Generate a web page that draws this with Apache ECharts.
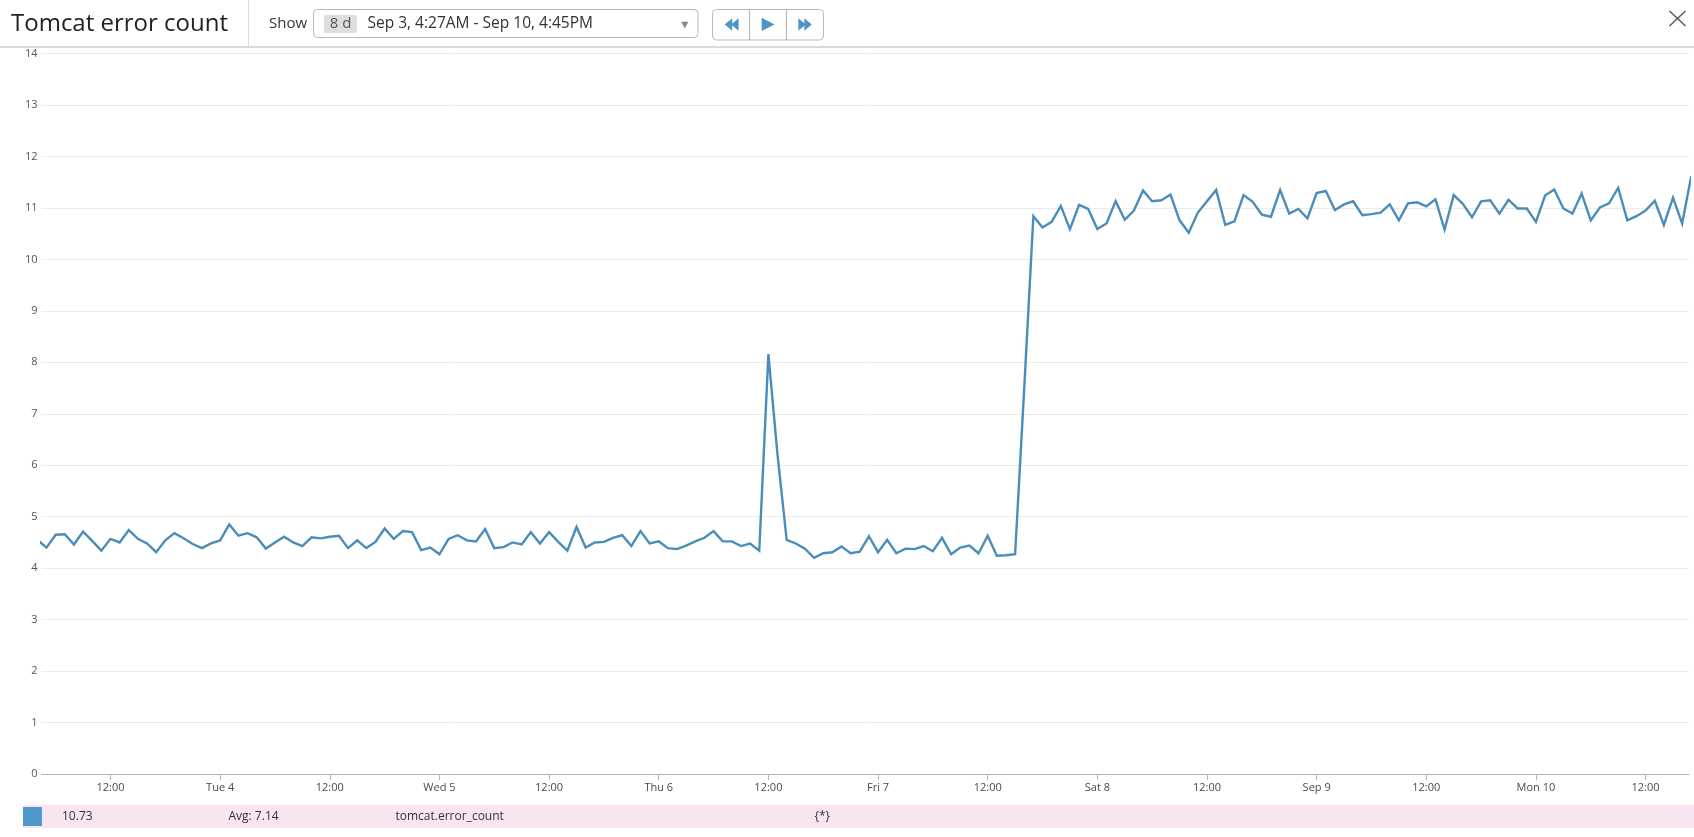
<!DOCTYPE html>
<html>
<head>
<meta charset="utf-8">
<style>html,body{margin:0;padding:0;background:#fff}#c{width:1694px;height:837px}</style>
<script src="https://cdn.jsdelivr.net/npm/echarts@6/dist/echarts.min.js"></script>
</head>
<body>
<div id="c"></div>
<script>
// hourly values, one list per day
const sep3 = [4.55,4.40,4.65,4.66,4.46,4.71,4.53,4.34,4.57,4.50,4.74,4.57,4.48,4.31,4.54,4.68,4.58,4.47,4.39,4.48]; // from 04:00
const sep4 = [4.54,4.85,4.63,4.68,4.60,4.38,4.50,4.61,4.50,4.43,4.60,4.58,4.61,4.63,4.39,4.54,4.39,4.51,4.77,4.57,4.72,4.70,4.35,4.40];
const sep5 = [4.27,4.57,4.64,4.54,4.52,4.76,4.39,4.41,4.50,4.46,4.70,4.48,4.70,4.51,4.34,4.80,4.40,4.50,4.51,4.59,4.64,4.43,4.72,4.48];
const sep6 = [4.52,4.39,4.37,4.44,4.52,4.59,4.72,4.52,4.52,4.43,4.48,4.34,8.16,6.20,4.55,4.48,4.38,4.20,4.29,4.31,4.42,4.29,4.32,4.62];
const sep7 = [4.31,4.55,4.29,4.38,4.37,4.43,4.33,4.59,4.27,4.40,4.44,4.29,4.63,4.24,4.25,4.27,7.50,10.84,10.62,10.73,11.04,10.59,11.06,10.98];
const sep8 = [10.59,10.70,11.13,10.77,10.95,11.34,11.13,11.15,11.26,10.76,10.52,10.91,11.13,11.35,10.67,10.74,11.25,11.12,10.87,10.83,11.35,10.89,10.98,10.80];
const sep9 = [11.29,11.33,10.96,11.07,11.13,10.86,10.88,10.91,11.07,10.76,11.09,11.11,11.03,11.17,10.58,11.25,11.08,10.82,11.13,11.15,10.89,11.16,10.99,10.99];
const sep10 = [10.73,11.24,11.36,10.99,10.89,11.28,10.76,11.01,11.09,11.39,10.76,10.84,10.95,11.14,10.67,11.20,10.70,11.62];

const xTicks = [[3,12,'12:00'],[4,0,'Tue 4'],[4,12,'12:00'],[5,0,'Wed 5'],[5,12,'12:00'],[6,0,'Thu 6'],[6,12,'12:00'],[7,0,'Fri 7'],[7,12,'12:00'],[8,0,'Sat 8'],[8,12,'12:00'],[9,0,'Sep 9'],[9,12,'12:00'],[10,0,'Mon 10'],[10,12,'12:00']];

const title = 'Tomcat error count';
const rangeText = 'Sep 3, 4:27AM - Sep 10, 4:45PM';
const legendValue = '10.73', legendAvg = 'Avg: 7.14', legendMetric = 'tomcat.error_count', legendScope = '{*}';

// the x axis runs in hours counted from Sep 3, 00:00
const t = (d,h,m) => (d-3)*24 + h + (m||0)/60;
const seriesData = [];
[[3,sep3,4],[4,sep4,0],[5,sep5,0],[6,sep6,0],[7,sep7,0],[8,sep8,0],[9,sep9,0],[10,sep10,0]].forEach(([d,vals,h0])=>{
  vals.forEach((v,i)=>seriesData.push([t(d,h0+i),v]));
});
const tickTimes = xTicks.map(a=>t(a[0],a[1]));
const tickLabels = {}; xTicks.forEach(a=>tickLabels[t(a[0],a[1])]=a[2]);

const FONT = '"Open Sans","Noto Sans",sans-serif';
const BLUE = '#4d94c4';
const txt = (x,y,text,size,color,extra) => ({type:'text',silent:true,x,y,style:Object.assign({text,fontFamily:FONT,fontSize:size,fill:color,verticalAlign:'middle',align:'left'},extra||{})});
const rect = (x,y,w,h,fill,stroke,r) => ({type:'rect',silent:true,shape:{x,y,width:w,height:h,r:r||0},style:{fill:fill||'none',stroke:stroke||'none',lineWidth:1}});
const line = (x1,y1,x2,y2,stroke,w) => ({type:'line',silent:true,shape:{x1,y1,x2,y2},style:{stroke,lineWidth:w||1}});
const poly = (pts,fill) => ({type:'polygon',silent:true,shape:{points:pts},style:{fill}});

const chart = echarts.init(document.getElementById('c'),null,{renderer:'canvas',width:1694,height:837});
chart.setOption({
  animation:false,
  backgroundColor:'#fff',
  grid:{left:41.5,right:5,top:53.6,bottom:63,containLabel:false},
  xAxis:{
    type:'value',
    min:t(3,4,27),max:t(10,16,45),
    splitLine:{show:false},
    axisLine:{show:true,lineStyle:{color:'#b5b5b5',width:1}},
    axisTick:{show:true,length:6,customValues:tickTimes,lineStyle:{color:'#b5b5b5'}},
    axisLabel:{customValues:tickTimes,formatter:v=>tickLabels[v]||'',color:'#4a4a4a',fontFamily:FONT,fontSize:11,margin:8,hideOverlap:false}
  },
  yAxis:{
    type:'value',min:0,max:14,interval:1,
    axisLine:{show:false},axisTick:{show:false},
    splitLine:{show:true,lineStyle:{color:'#ececec',width:1}},
    axisLabel:{color:'#555',fontFamily:FONT,fontSize:11,margin:4}
  },
  series:[{
    type:'line',name:'tomcat.error_count',data:seriesData,showSymbol:false,symbol:'none',smooth:false,clip:true,
    lineStyle:{color:'#4a8dbb',width:2.4,join:'miter'},
    itemStyle:{color:'#4a8dbb'}
  }],
  graphic:{elements:[
    // header
    line(0,47,1694,47,'#cfcfcf',1.5),
    line(248.5,0,248.5,47,'#dcdcdc',1),
    txt(11,24,title,24,'#222'),
    txt(269,24,'Show',15,'#333'),
    rect(313.5,9.5,384.5,28,'#fff','#b9b9b9',4),
    rect(324,15,33,18,'#dedede',null,2),
    txt(340.5,24,'8 d',15,'#555',{align:'center'}),
    txt(367.5,24,rangeText,15.5,'#333'),
    poly([[681.3,21.7],[688.3,21.7],[684.8,28.5]],'#888'),
    rect(712.5,9.5,111,30.5,'#fff','#b9b9b9',4),
    line(749.5,10,749.5,40,'#b9b9b9',1.2),
    line(786.5,10,786.5,40,'#b9b9b9',1.2),
    poly([[732.2,18.3],[732.2,30.7],[724.7,24.5]],BLUE), poly([[738.6,18.3],[738.6,30.7],[731.1,24.5]],BLUE),
    poly([[761.7,17.7],[761.7,31],[774.5,24.4]],BLUE),
    poly([[798.3,18.3],[798.3,30.7],[805.8,24.5]],BLUE), poly([[804.3,18.3],[804.3,30.7],[811.8,24.5]],BLUE),
    line(1669.5,11,1685.5,26,'#555',1.4),
    line(1685.5,11,1669.5,26,'#555',1.4),
    // legend row
    rect(23,805,1671,23,'#f9e5f2'),
    rect(23,807,19,19,'#4f98cb'),
    txt(62,816.5,legendValue,12,'#333'),
    txt(228.5,816.5,legendAvg,12,'#333'),
    txt(395.5,816.5,legendMetric,12,'#333'),
    txt(814.5,816.5,legendScope,12,'#333')
  ]}
});
</script>
</body>
</html>
